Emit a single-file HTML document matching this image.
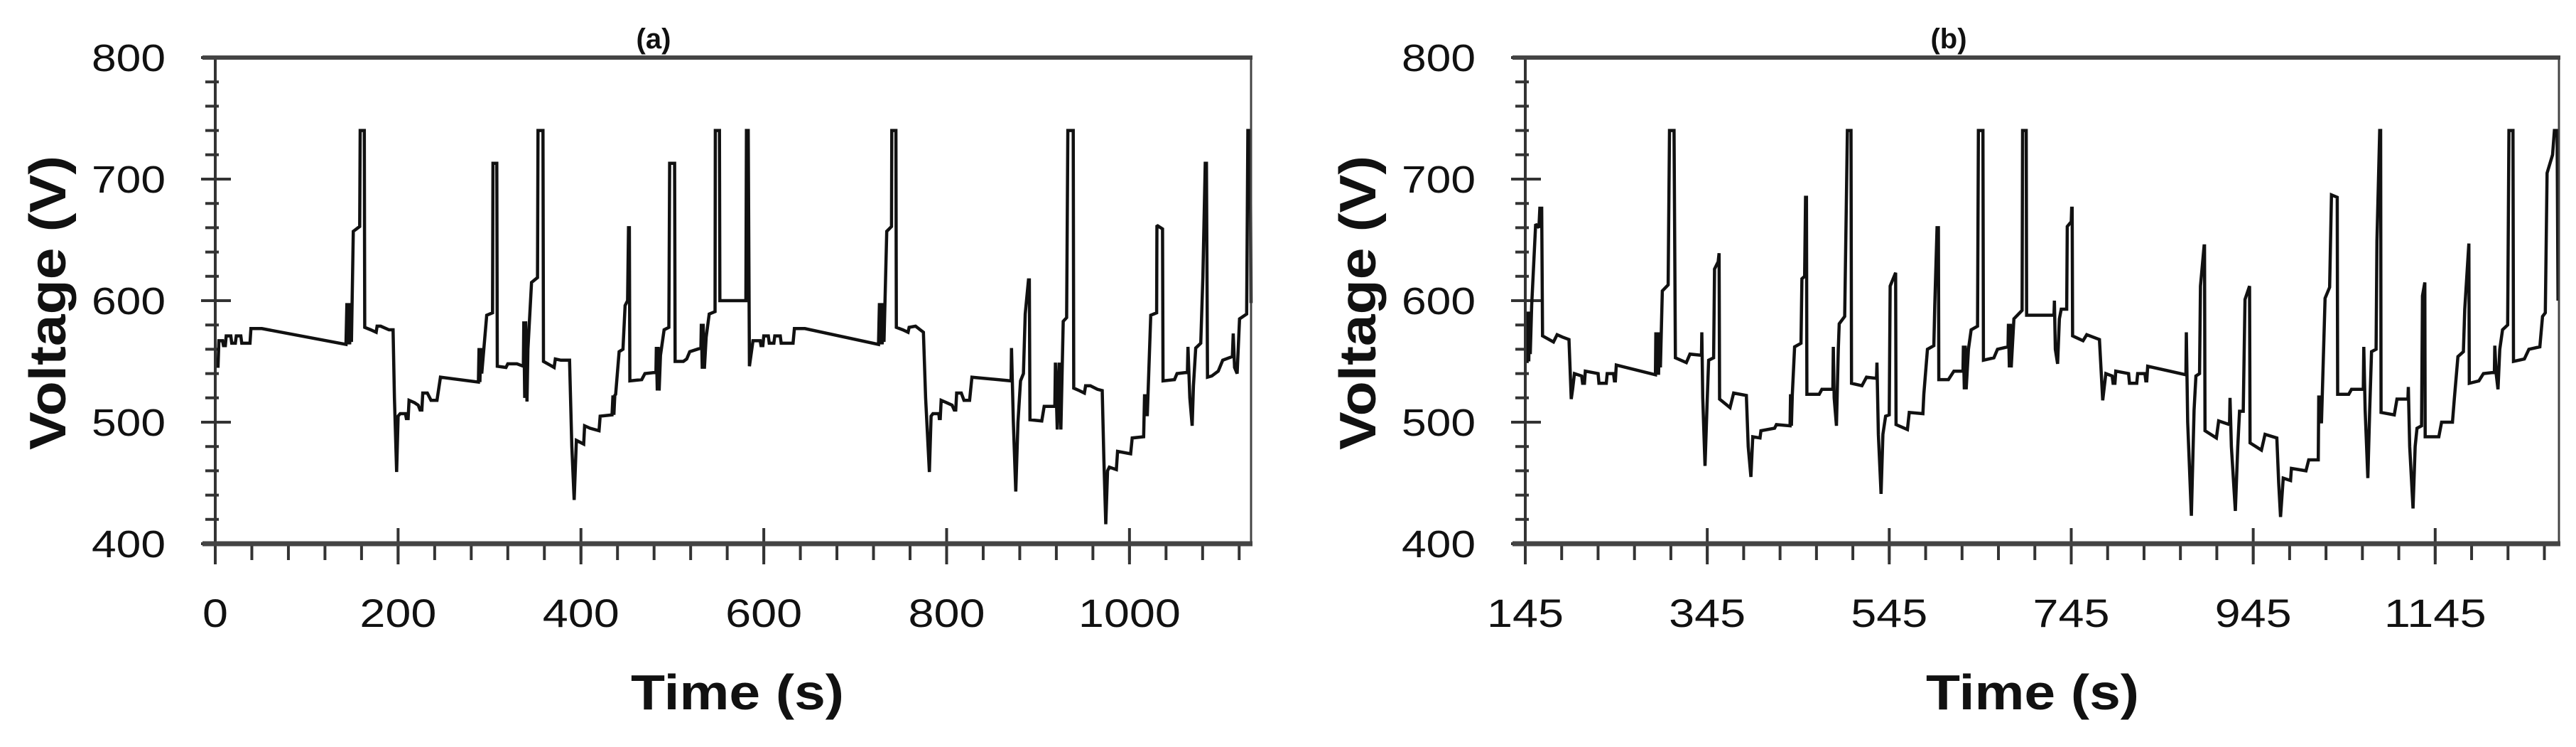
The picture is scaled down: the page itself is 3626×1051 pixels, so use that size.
<!DOCTYPE html>
<html><head><meta charset="utf-8"><title>Voltage vs Time</title>
<style>
html,body{margin:0;padding:0;background:#fff;}
svg{display:block;}
text{font-family:"Liberation Sans",sans-serif;fill:#111;}
</style></head>
<body>
<svg id="chart" width="3626" height="1051" viewBox="0 0 3626 1051" xmlns="http://www.w3.org/2000/svg"></svg>
<script>
// ---- data ----
const yTicks = [400, 500, 600, 700, 800];
const xTicksA = [0, 200, 400, 600, 800, 1000];
const xTicksB = [145, 345, 545, 745, 945, 1145];
const pointsA = [[0,546],[3,546],[4,567],[8,567],[9,563],[11,563],[12,571],[17,571],[18,565],[22,565],[23,571],[28,571],[29,565],[38,565],[39,577],[51,577],[143,564],[144,598],[145,564],[146,598],[147,564],[148,598],[149,566],[151,657],[158,661],[158.5,740],[163,740],[163.5,578],[170,576],[176,574],[177,579],[181,579],[190,576],[194.5,576],[196,520],[198.4,459],[200,505],[202.3,507],[208,507],[209,503],[211,503],[212,518],[218,516],[222,514],[224,510],[226,510],[227,524],[232,524],[236,518],[242.5,518],[246.3,537],[287.8,533],[288.5,561],[289.5,533],[290.5,561],[291.5,540],[296.9,588],[303.3,590],[303.8,713],[308,713],[308.5,546],[318,545],[320,548],[330,548],[337,546],[337.5,583],[338.5,520],[339.5,583],[341,517],[342,560],[346,615],[352.5,619],[353,740],[358.5,740],[359,550],[366,547],[370.7,545],[372,552],[378,551],[387.5,551],[390,480],[392.6,436],[395,485],[403,482],[404,497],[410,495],[419.8,493],[421,505],[434,506],[435,522],[436,506],[437,522],[438,523],[441.8,558],[446,560],[448.3,596],[451,600],[452,660],[453,660],[453.5,534],[466.5,535],[470,540],[482,541],[482.5,562],[483.5,526],[484.5,562],[485.5,526],[487,555],[491,576],[496.2,578],[497,713],[502.5,713],[503,550],[512,550],[515.7,552],[519,558],[531.2,561],[531.7,581],[532.7,544],[533.7,581],[535,544],[537,570],[540.3,589],[546.7,591],[547,740],[551.5,740],[552,600],[580.4,600],[581,740],[583,740],[584.3,546],[588.2,567],[596,567],[597,563],[599,563],[600,571],[605,571],[606,565],[611,565],[612,571],[618,571],[619,565],[632,565],[633.5,577],[645,577],[725.5,564],[726.5,598],[727.5,564],[728.5,598],[729.5,564],[730.5,598],[731.5,566],[734.5,657],[739.7,661],[740,740],[744.5,740],[745,578],[752,576],[757.8,574],[759,578],[766,579],[774.6,574],[777,520],[781.1,459],[783,505],[785,507],[791.5,507],[792,503],[793,503],[794,518],[800,516],[806,514],[808.3,510],[810,510],[811,524],[816,524],[819,518],[825.1,518],[827.7,537],[870.5,534],[871,561],[873,500],[875.6,443],[878,500],[880.8,534],[884,540],[886,589],[889.5,617],[890.5,617],[891.2,502],[904.1,501],[906.7,513],[918.4,513],[919,549],[921,494],[923,549],[925,494],[927.5,583],[931.3,586],[932.6,740],[938.5,740],[939,528],[945,526],[950.7,524],[952,530],[957.2,530],[965,527],[970.2,526],[972,470],[974.1,416],[976,460],[978,463],[985.7,461],[987,476],[1001.3,474],[1003,487],[1015.5,488],[1016.5,523],[1017.5,505],[1018.5,523],[1019.5,505],[1023.3,588],[1029.7,590],[1030,662],[1036.2,659],[1036.7,534],[1049.2,535],[1052,540],[1063.4,541],[1064,562],[1066,520],[1068.6,497],[1070,530],[1072.5,561],[1078,565],[1080.3,620],[1082.9,713],[1084.2,713],[1085.4,537],[1090,538],[1097.1,542],[1102,551],[1112.6,554],[1113.5,573],[1115,545],[1117.8,540],[1120.4,585],[1128.2,589],[1129.5,740],[1132,740],[1133,598]];
const pointsB = [[145,550],[147,550],[148,591],[148.8,550],[149.6,591],[150.5,556],[152,596],[156.4,663],[160,660],[161,676],[163,676],[164,571],[176,566],[180,572],[186,570],[193,568],[195.5,519],[197,527],[199,540],[207,538],[208,532],[210,532],[211,542],[225,540],[226,532],[234,532],[235,540],[242,540],[243,534],[244,534],[245,547],[288,539],[288.5,574],[289.5,539],[290.5,574],[291.5,539],[292.5,574],[293.5,545],[295.6,608],[302,613],[303.5,740],[308.5,740],[310,553],[322,549],[326,556],[338.6,555],[339,574],[340,520],[342.5,464],[345,520],[346.5,551],[352,553],[353,626],[357,632],[358,639],[358.5,519],[370,512],[374,524],[388,522],[390,480],[393,455],[395,488],[403,487],[404,493],[419,495],[421,498],[436,497],[436.5,523],[437.5,497],[438.5,523],[441,562],[448,565],[449,618],[452,620],[453,685],[454,685],[454.5,523],[468,523],[471,527],[483,527],[483.5,562],[484.5,520],[487,497],[489,560],[490,581],[496,587],[499,740],[503,740],[503.5,532],[515,530],[520,537],[531,536],[531.5,549],[533,490],[536,441],[538,490],[541,505],[545,506],[546,612],[552,623],[552.5,498],[565,494],[567,508],[582,507],[583,523],[587,560],[594,563],[595,596],[597.5,660],[599,660],[599.5,535],[610,535],[616,542],[626,542],[626.5,563],[627.5,527],[628.5,563],[629.5,527],[632,560],[635,576],[642,579],[643,740],[648,740],[648.5,551],[660,553],[664,560],[675.5,562],[676,581],[677,545],[678,581],[679,545],[682,585],[691,592],[691.5,740],[695.5,740],[696,588],[726,588],[726.5,600],[727.5,560],[730,548],[732,585],[734,593],[740,593],[740.6,661],[745,665],[745.5,676],[746,676],[746.5,571],[758,567],[762,572],[776,568],[779.6,518],[781,527],[783,540],[790,538],[791,532],[793,532],[794,542],[808,540],[809,532],[817,532],[818,540],[826,540],[827,534],[828,534],[829,546],[871,539],[871.5,574],[873,500],[877,423],[880,510],[882,538],[886,540],[887,612],[891,645],[891.5,645],[892,493],[904.5,487],[907,501],[919,498],[919.5,520],[921,480],[925.4,427],[928,480],[930,509],[934,509],[936,601],[941,612],[941.5,483],[954,477],[958,490],[971,487],[973,450],[975,422],[978,454],[986,452],[987,462],[1003,460],[1006,469],[1016.5,469],[1017,522],[1018,499],[1019,522],[1020,499],[1024,602],[1029,611],[1031,687],[1037.3,685],[1037.8,523],[1050,523],[1053,527],[1066,527],[1066.5,562],[1068,510],[1071,454],[1073,510],[1075,558],[1080,560],[1081,649],[1084,740],[1085,740],[1085.5,508],[1100,506],[1103,519],[1115,519],[1115.5,529],[1117,480],[1120.6,429],[1123,480],[1125,495],[1130,497],[1131,604],[1133.6,615],[1134,488],[1149,488],[1152,500],[1164,500],[1166,519],[1170,554],[1176,558],[1177.5,593],[1182,647],[1182.5,532],[1193,534],[1198,540],[1210,541],[1210.5,563],[1212,540],[1214,527],[1216,560],[1219,576],[1224.6,580],[1226,740],[1230.5,740],[1231,550],[1243,552],[1248,560],[1260,562],[1263,587],[1266,590],[1268,705],[1274,720],[1276,740],[1279,740],[1280,600]];

const NS = "http://www.w3.org/2000/svg";
const svg = document.getElementById('chart');
function mk(tag, attrs, parent) {
  const e = document.createElementNS(NS, tag);
  for (const k in attrs) e.setAttribute(k, attrs[k]);
  (parent || svg).appendChild(e);
  return e;
}

function panel(cfg) {
  const g = mk('g', {});
  
  
  const L = cfg.left, R = cfg.right, T = 81, B = 765;
  const xs = v => L + (v - cfg.x0) / (cfg.x1 - cfg.x0) * (R - L);
  const ys = v => B - (v - 400) / 400 * (B - T);

  // minor y ticks
  for (let v = 400; v <= 800; v += 20) {
    const t = mk('line', {x1: L - 14, x2: L + 5, y1: ys(v), y2: ys(v), stroke: '#333', 'stroke-width': 4}, g);
    
    
  }
  yTicks.forEach(v => {
    const t = mk('line', {x1: L - 20, x2: L + 22, y1: ys(v), y2: ys(v), stroke: '#333', 'stroke-width': 4}, g);
    
    
    const lb = mk('text', {x: L - 70, y: ys(v) + 19, 'text-anchor': 'end', 'font-size': 54, textLength: 104, lengthAdjust: 'spacingAndGlyphs'}, g);
    lb.textContent = String(v);
    
    
  });
  // x ticks
  const step = (cfg.xTicks[1] - cfg.xTicks[0]) / 5;
  for (let v = cfg.xTicks[0]; v <= cfg.x1; v += step) {
    const t = mk('line', {x1: xs(v), x2: xs(v), y1: B, y2: B + 23, stroke: '#333', 'stroke-width': 4}, g);
    
    
  }
  cfg.xTicks.forEach(v => {
    const t = mk('line', {x1: xs(v), x2: xs(v), y1: B - 22, y2: B + 29, stroke: '#333', 'stroke-width': 4}, g);
    
    
    const lb = mk('text', {x: xs(v), y: 882, 'text-anchor': 'middle', 'font-size': 56, textLength: String(v).length * 36, lengthAdjust: 'spacingAndGlyphs'}, g);
    lb.textContent = String(v);
    
    
  });

  // series
  const pts = cfg.points.map(p => xs(p[0]).toFixed(1) + ',' + ys(p[1]).toFixed(1)).join(' ');
  const pl = mk('polyline', {points: pts, fill: 'none', stroke: '#111', 'stroke-width': 4.5, 'stroke-linejoin': 'miter', 'stroke-miterlimit': 2}, g);
  
  

  // frame
  const fl = mk('line', {x1: L, x2: L, y1: T, y2: B, stroke: '#333', 'stroke-width': 4}, g);
  
  
  const fr = mk('line', {x1: R, x2: R, y1: T, y2: B, stroke: '#444', 'stroke-width': 3}, g);
  
  
  const ft = mk('line', {x1: L - 18, x2: R + 2, y1: T, y2: T, stroke: '#444', 'stroke-width': 6}, g);
  
  
  const fb = mk('line', {x1: L - 18, x2: R + 2, y1: B, y2: B, stroke: '#444', 'stroke-width': 7}, g);
  
  

  // titles
  const tt = mk('text', {x: cfg.titleX, y: 68, 'text-anchor': 'middle', 'font-size': 40, 'font-weight': 'bold'}, g);
  tt.textContent = cfg.title;
  
  
  const xt = mk('text', {x: cfg.xTitleX, y: 998, 'text-anchor': 'middle', 'font-size': 70, 'font-weight': 'bold', textLength: 300, lengthAdjust: 'spacingAndGlyphs'}, g);
  xt.textContent = 'Time (s)';
  
  
  const yt = mk('text', {x: 0, y: 0, 'text-anchor': 'middle', 'font-size': 72, 'font-weight': 'bold', textLength: 414, lengthAdjust: 'spacingAndGlyphs', transform: 'translate(' + (cfg.yTitleX + 26) + ',426) rotate(-90)'}, g);
  yt.textContent = 'Voltage (V)';
  
  
}

panel({name: 'panel-a', left: 303, right: 1761, x0: 0, x1: 1133, xTicks: xTicksA, points: pointsA, title: '(a)', titleX: 920, xTitleX: 1038, yTitleX: 66});
panel({name: 'panel-b', left: 2147, right: 3602, x0: 145, x1: 1281, xTicks: xTicksB, points: pointsB, title: '(b)', titleX: 2743, xTitleX: 2861, yTitleX: 1910});
</script>
</body></html>
